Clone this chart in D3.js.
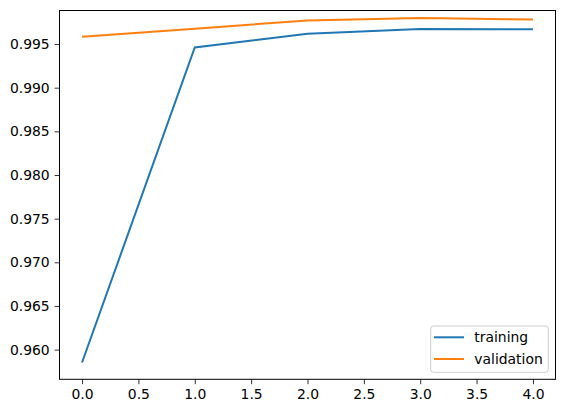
<!DOCTYPE html><html><head><script src="https://d3js.org/d3.v7.min.js"></script>
<style>body{margin:0;background:#fff}text{font-family:"DejaVu Sans"}</style></head><body><svg id="c" width="565" height="413"></svg>
<script>
const epochs=[0,1,2,3,4];
const training=[0.95852,0.99461,0.99617,0.99672,0.99668];
const validation=[0.99582,0.99676,0.99770,0.99797,0.99781];
const xTicks=[0,0.5,1,1.5,2,2.5,3,3.5,4];
const yTicks=[0.960,0.965,0.970,0.975,0.980,0.985,0.990,0.995];
const svg=d3.select("#c");
const L=59.5,R=555.5,T=10.5,B=379.3;
const x=d3.scaleLinear().domain([-0.2,4.2]).range([L,R]);
const y=d3.scaleLinear().domain([0.95660,0.99884]).range([B,T]);
svg.append("g").attr("transform",`translate(0,${B})`).call(d3.axisBottom(x).tickValues(xTicks).tickFormat(d3.format(".1f")).tickSize(4.9).tickPadding(4.9)).call(g=>g.select(".domain").remove());
svg.append("g").attr("transform",`translate(${L},0)`).call(d3.axisLeft(y).tickValues(yTicks).tickFormat(d3.format(".3f")).tickSize(4.9).tickPadding(4.9)).call(g=>g.select(".domain").remove());
svg.selectAll(".tick text").attr("fill","#000").style("font-size","13.9px").style("font-family","DejaVu Sans");
svg.selectAll(".tick line").attr("stroke-width",0.8);
const line=d3.line().x((d,i)=>x(epochs[i])).y(d=>y(d));
svg.append("path").datum(training).attr("d",line).attr("fill","none").attr("stroke","#1f77b4").attr("stroke-width",2);
svg.append("path").datum(validation).attr("d",line).attr("fill","none").attr("stroke","#ff7f0e").attr("stroke-width",2);
svg.append("rect").attr("x",L).attr("y",T).attr("width",R-L).attr("height",B-T).attr("fill","none").attr("stroke","#000").attr("stroke-width",1);
const lg=svg.append("g");
lg.append("rect").attr("x",430.7).attr("y",326).attr("width",117.6).attr("height",46.3).attr("rx",3).attr("fill","#fff").attr("fill-opacity",0.8).attr("stroke","#ccc");
[["training","#1f77b4",337.3],["validation","#ff7f0e",359]].forEach(([t,c,yy])=>{
lg.append("line").attr("x1",434).attr("x2",464).attr("y1",yy).attr("y2",yy).attr("stroke",c).attr("stroke-width",2);
lg.append("text").attr("x",474.3).attr("y",yy+5).text(t).style("font-size","13.9px");});
</script></body></html>
